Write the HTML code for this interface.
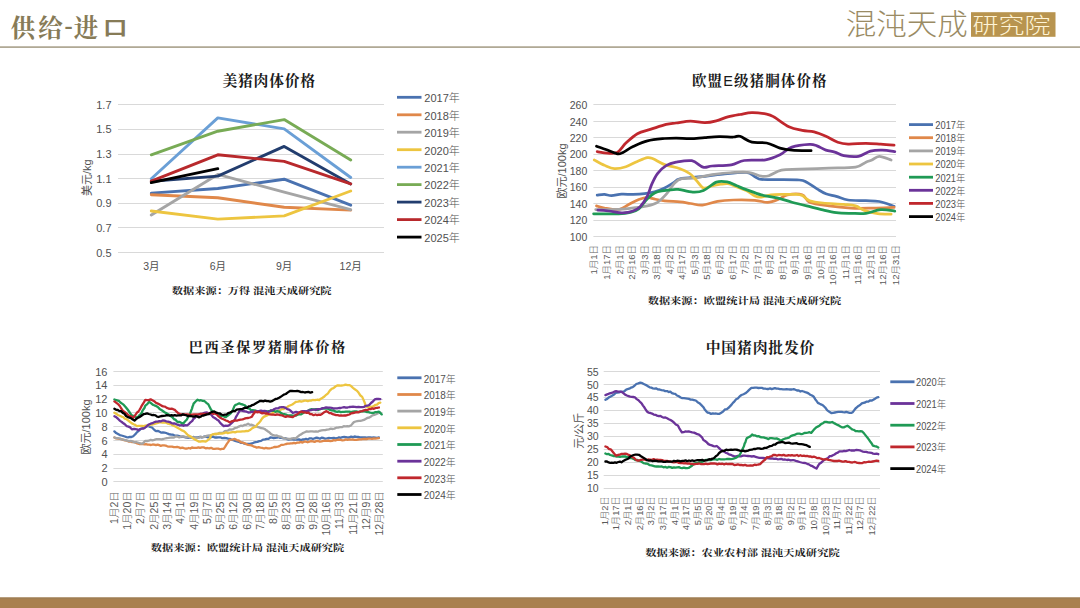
<!DOCTYPE html>
<html lang="zh-CN"><head><meta charset="utf-8"><title>供给-进口</title>
<style>html,body{margin:0;padding:0;background:#fff;}body{width:1080px;height:608px;overflow:hidden;}svg{display:block;}</style>
</head><body>
<svg width="1080" height="608" viewBox="0 0 1080 608">
<rect x="0" y="0" width="1080" height="608" fill="#fff"/>
<text y="28" font-size="24.5" fill="#877B57" font-family="'Liberation Serif','Noto Serif CJK SC',serif" font-weight="bold" dominant-baseline="central"><tspan x="10.8">供</tspan><tspan x="38.2">给</tspan><tspan x="64.6" y="25">-</tspan><tspan x="73.8" y="28">进</tspan></text>
<text x="103.2" y="28.0" font-size="18.8" fill="#877B57" font-weight="bold" font-family="'Liberation Sans','Noto Sans CJK SC',sans-serif" dominant-baseline="central" textLength="24" lengthAdjust="spacingAndGlyphs">口</text>
<rect x="0" y="46.3" width="1080" height="1.6" fill="#A8A08A"/>
<text x="845.8" y="25" font-size="29" fill="#9A8B64" text-anchor="start" font-family="'Liberation Sans','Noto Sans CJK SC',sans-serif" font-weight="300" dominant-baseline="central" textLength="122" lengthAdjust="spacingAndGlyphs">混沌天成</text>
<rect x="971" y="12.2" width="84.5" height="24.6" fill="#B8944F"/>
<text x="972.6" y="25.3" font-size="22" fill="#FFF4D6" text-anchor="start" font-family="'Liberation Sans','Noto Sans CJK SC',sans-serif" font-weight="300" dominant-baseline="central" textLength="77.8" lengthAdjust="spacingAndGlyphs">研究院</text>
<rect x="0" y="597.5" width="1080" height="11" fill="#A9804F"/>
<rect x="0" y="597.5" width="1080" height="1.2" fill="#9C7E56"/>
<text x="222.4" y="81.1" font-size="14.8" fill="#1a1a1a" font-family="'Liberation Serif','Noto Serif CJK SC',serif" font-weight="bold" dominant-baseline="central" textLength="92.7" lengthAdjust="spacing">美猪肉体价格</text>
<line x1="118" y1="252.5" x2="384" y2="252.5" stroke="#D9D9D9" stroke-width="1"/>
<text x="111.5" y="252.6" font-size="11" fill="#505050" text-anchor="end" font-family="'Liberation Sans','Noto Sans CJK SC',sans-serif" font-weight="normal" dominant-baseline="central">0.5</text>
<line x1="118" y1="227.5" x2="384" y2="227.5" stroke="#D9D9D9" stroke-width="1"/>
<text x="111.5" y="227.9" font-size="11" fill="#505050" text-anchor="end" font-family="'Liberation Sans','Noto Sans CJK SC',sans-serif" font-weight="normal" dominant-baseline="central">0.7</text>
<line x1="118" y1="203.5" x2="384" y2="203.5" stroke="#D9D9D9" stroke-width="1"/>
<text x="111.5" y="203.3" font-size="11" fill="#505050" text-anchor="end" font-family="'Liberation Sans','Noto Sans CJK SC',sans-serif" font-weight="normal" dominant-baseline="central">0.9</text>
<line x1="118" y1="178.5" x2="384" y2="178.5" stroke="#D9D9D9" stroke-width="1"/>
<text x="111.5" y="178.7" font-size="11" fill="#505050" text-anchor="end" font-family="'Liberation Sans','Noto Sans CJK SC',sans-serif" font-weight="normal" dominant-baseline="central">1.1</text>
<line x1="118" y1="154.5" x2="384" y2="154.5" stroke="#D9D9D9" stroke-width="1"/>
<text x="111.5" y="154.1" font-size="11" fill="#505050" text-anchor="end" font-family="'Liberation Sans','Noto Sans CJK SC',sans-serif" font-weight="normal" dominant-baseline="central">1.3</text>
<line x1="118" y1="129.5" x2="384" y2="129.5" stroke="#D9D9D9" stroke-width="1"/>
<text x="111.5" y="129.4" font-size="11" fill="#505050" text-anchor="end" font-family="'Liberation Sans','Noto Sans CJK SC',sans-serif" font-weight="normal" dominant-baseline="central">1.5</text>
<line x1="118" y1="104.5" x2="384" y2="104.5" stroke="#D9D9D9" stroke-width="1"/>
<text x="111.5" y="104.8" font-size="11" fill="#505050" text-anchor="end" font-family="'Liberation Sans','Noto Sans CJK SC',sans-serif" font-weight="normal" dominant-baseline="central">1.7</text>
<text x="151.3" y="266" font-size="10.5" fill="#505050" text-anchor="middle" font-family="'Liberation Sans','Noto Sans CJK SC',sans-serif" font-weight="normal" dominant-baseline="central">3月</text>
<text x="217.8" y="266" font-size="10.5" fill="#505050" text-anchor="middle" font-family="'Liberation Sans','Noto Sans CJK SC',sans-serif" font-weight="normal" dominant-baseline="central">6月</text>
<text x="284.2" y="266" font-size="10.5" fill="#505050" text-anchor="middle" font-family="'Liberation Sans','Noto Sans CJK SC',sans-serif" font-weight="normal" dominant-baseline="central">9月</text>
<text x="350.7" y="266" font-size="10.5" fill="#505050" text-anchor="middle" font-family="'Liberation Sans','Noto Sans CJK SC',sans-serif" font-weight="normal" dominant-baseline="central">12月</text>
<text transform="translate(87,177.7) rotate(-90)" font-size="11" fill="#505050" text-anchor="middle" font-family="'Liberation Sans','Noto Sans CJK SC',sans-serif" dominant-baseline="central">美元/kg</text>
<polyline points="151.3,193.1 217.8,188.5 284.2,179.2 350.7,205.2" fill="none" stroke="#4A72B0" stroke-width="2.9" stroke-linejoin="round" stroke-linecap="round"/>
<polyline points="151.3,194.8 217.8,197.8 284.2,207.3 350.7,210.1" fill="none" stroke="#E0884A" stroke-width="2.9" stroke-linejoin="round" stroke-linecap="round"/>
<polyline points="151.3,215.1 217.8,174.4 284.2,192.2 350.7,209.7" fill="none" stroke="#A5A5A5" stroke-width="2.9" stroke-linejoin="round" stroke-linecap="round"/>
<polyline points="151.3,211 217.8,219.1 284.2,215.9 350.7,191" fill="none" stroke="#EDC540" stroke-width="2.9" stroke-linejoin="round" stroke-linecap="round"/>
<polyline points="151.3,178.7 217.8,117.9 284.2,128.9 350.7,177.5" fill="none" stroke="#6A9FD6" stroke-width="2.9" stroke-linejoin="round" stroke-linecap="round"/>
<polyline points="151.3,154.8 217.8,131.2 284.2,119.6 350.7,160" fill="none" stroke="#78AB55" stroke-width="2.9" stroke-linejoin="round" stroke-linecap="round"/>
<polyline points="151.3,181.2 217.8,176.1 284.2,146.4 350.7,183.9" fill="none" stroke="#223D6E" stroke-width="2.9" stroke-linejoin="round" stroke-linecap="round"/>
<polyline points="151.3,181.2 217.8,154.8 284.2,161.4 350.7,183.9" fill="none" stroke="#B8292C" stroke-width="2.9" stroke-linejoin="round" stroke-linecap="round"/>
<polyline points="151.3,182.6 217.8,168.7" fill="none" stroke="#000000" stroke-width="2.9" stroke-linejoin="round" stroke-linecap="round"/>
<line x1="397" y1="97.3" x2="421.5" y2="97.3" stroke="#4A72B0" stroke-width="2.8"/>
<text x="424.3" y="98.1" font-size="11" fill="#505050" text-anchor="start" font-family="'Liberation Sans','Noto Sans CJK SC',sans-serif" font-weight="300" dominant-baseline="central">2017年</text>
<line x1="397" y1="114.8" x2="421.5" y2="114.8" stroke="#E0884A" stroke-width="2.8"/>
<text x="424.3" y="115.6" font-size="11" fill="#505050" text-anchor="start" font-family="'Liberation Sans','Noto Sans CJK SC',sans-serif" font-weight="300" dominant-baseline="central">2018年</text>
<line x1="397" y1="132.2" x2="421.5" y2="132.2" stroke="#A5A5A5" stroke-width="2.8"/>
<text x="424.3" y="133" font-size="11" fill="#505050" text-anchor="start" font-family="'Liberation Sans','Noto Sans CJK SC',sans-serif" font-weight="300" dominant-baseline="central">2019年</text>
<line x1="397" y1="149.7" x2="421.5" y2="149.7" stroke="#EDC540" stroke-width="2.8"/>
<text x="424.3" y="150.5" font-size="11" fill="#505050" text-anchor="start" font-family="'Liberation Sans','Noto Sans CJK SC',sans-serif" font-weight="300" dominant-baseline="central">2020年</text>
<line x1="397" y1="167.2" x2="421.5" y2="167.2" stroke="#6A9FD6" stroke-width="2.8"/>
<text x="424.3" y="168" font-size="11" fill="#505050" text-anchor="start" font-family="'Liberation Sans','Noto Sans CJK SC',sans-serif" font-weight="300" dominant-baseline="central">2021年</text>
<line x1="397" y1="184.6" x2="421.5" y2="184.6" stroke="#78AB55" stroke-width="2.8"/>
<text x="424.3" y="185.4" font-size="11" fill="#505050" text-anchor="start" font-family="'Liberation Sans','Noto Sans CJK SC',sans-serif" font-weight="300" dominant-baseline="central">2022年</text>
<line x1="397" y1="202.1" x2="421.5" y2="202.1" stroke="#223D6E" stroke-width="2.8"/>
<text x="424.3" y="202.9" font-size="11" fill="#505050" text-anchor="start" font-family="'Liberation Sans','Noto Sans CJK SC',sans-serif" font-weight="300" dominant-baseline="central">2023年</text>
<line x1="397" y1="219.6" x2="421.5" y2="219.6" stroke="#B8292C" stroke-width="2.8"/>
<text x="424.3" y="220.4" font-size="11" fill="#505050" text-anchor="start" font-family="'Liberation Sans','Noto Sans CJK SC',sans-serif" font-weight="300" dominant-baseline="central">2024年</text>
<line x1="397" y1="237.1" x2="421.5" y2="237.1" stroke="#000000" stroke-width="2.8"/>
<text x="424.3" y="237.9" font-size="11" fill="#505050" text-anchor="start" font-family="'Liberation Sans','Noto Sans CJK SC',sans-serif" font-weight="300" dominant-baseline="central">2025年</text>
<text x="171.8" y="290.2" font-size="9.6" fill="#1a1a1a" font-family="'Liberation Serif','Noto Serif CJK SC',serif" font-weight="bold" dominant-baseline="central" textLength="159.8" lengthAdjust="spacingAndGlyphs">数据来源：万得 混沌天成研究院</text>
<text x="691.9" y="81" font-size="14.5" fill="#1a1a1a" font-family="'Liberation Serif','Noto Serif CJK SC',serif" font-weight="bold" dominant-baseline="central" textLength="134.7" lengthAdjust="spacing">欧盟<tspan font-family="'Liberation Sans',sans-serif" font-weight="normal">E</tspan>级猪胴体价格</text>
<line x1="593.4" y1="104.5" x2="896" y2="104.5" stroke="#D9D9D9" stroke-width="1"/>
<text x="587.3" y="105" font-size="10.5" fill="#505050" text-anchor="end" font-family="'Liberation Sans','Noto Sans CJK SC',sans-serif" font-weight="normal" dominant-baseline="central">260</text>
<line x1="593.4" y1="121.5" x2="896" y2="121.5" stroke="#D9D9D9" stroke-width="1"/>
<text x="587.3" y="121.5" font-size="10.5" fill="#505050" text-anchor="end" font-family="'Liberation Sans','Noto Sans CJK SC',sans-serif" font-weight="normal" dominant-baseline="central">240</text>
<line x1="593.4" y1="137.5" x2="896" y2="137.5" stroke="#D9D9D9" stroke-width="1"/>
<text x="587.3" y="137.9" font-size="10.5" fill="#505050" text-anchor="end" font-family="'Liberation Sans','Noto Sans CJK SC',sans-serif" font-weight="normal" dominant-baseline="central">220</text>
<line x1="593.4" y1="154.5" x2="896" y2="154.5" stroke="#D9D9D9" stroke-width="1"/>
<text x="587.3" y="154.4" font-size="10.5" fill="#505050" text-anchor="end" font-family="'Liberation Sans','Noto Sans CJK SC',sans-serif" font-weight="normal" dominant-baseline="central">200</text>
<line x1="593.4" y1="170.5" x2="896" y2="170.5" stroke="#D9D9D9" stroke-width="1"/>
<text x="587.3" y="170.9" font-size="10.5" fill="#505050" text-anchor="end" font-family="'Liberation Sans','Noto Sans CJK SC',sans-serif" font-weight="normal" dominant-baseline="central">180</text>
<line x1="593.4" y1="187.5" x2="896" y2="187.5" stroke="#D9D9D9" stroke-width="1"/>
<text x="587.3" y="187.3" font-size="10.5" fill="#505050" text-anchor="end" font-family="'Liberation Sans','Noto Sans CJK SC',sans-serif" font-weight="normal" dominant-baseline="central">160</text>
<line x1="593.4" y1="203.5" x2="896" y2="203.5" stroke="#D9D9D9" stroke-width="1"/>
<text x="587.3" y="203.8" font-size="10.5" fill="#505050" text-anchor="end" font-family="'Liberation Sans','Noto Sans CJK SC',sans-serif" font-weight="normal" dominant-baseline="central">140</text>
<line x1="593.4" y1="220.5" x2="896" y2="220.5" stroke="#D9D9D9" stroke-width="1"/>
<text x="587.3" y="220.3" font-size="10.5" fill="#505050" text-anchor="end" font-family="'Liberation Sans','Noto Sans CJK SC',sans-serif" font-weight="normal" dominant-baseline="central">120</text>
<line x1="593.4" y1="236.5" x2="896" y2="236.5" stroke="#D9D9D9" stroke-width="1"/>
<text x="587.3" y="236.8" font-size="10.5" fill="#505050" text-anchor="end" font-family="'Liberation Sans','Noto Sans CJK SC',sans-serif" font-weight="normal" dominant-baseline="central">100</text>
<text transform="translate(593.9,245) rotate(-90)" font-size="9.5" fill="#5a5a5a" text-anchor="end" font-family="'Liberation Sans','Noto Sans CJK SC',sans-serif" font-weight="300" dominant-baseline="central">1月1日</text>
<text transform="translate(606.5,245) rotate(-90)" font-size="9.5" fill="#5a5a5a" text-anchor="end" font-family="'Liberation Sans','Noto Sans CJK SC',sans-serif" font-weight="300" dominant-baseline="central">1月17日</text>
<text transform="translate(619,245) rotate(-90)" font-size="9.5" fill="#5a5a5a" text-anchor="end" font-family="'Liberation Sans','Noto Sans CJK SC',sans-serif" font-weight="300" dominant-baseline="central">2月1日</text>
<text transform="translate(631.6,245) rotate(-90)" font-size="9.5" fill="#5a5a5a" text-anchor="end" font-family="'Liberation Sans','Noto Sans CJK SC',sans-serif" font-weight="300" dominant-baseline="central">2月16日</text>
<text transform="translate(644.1,245) rotate(-90)" font-size="9.5" fill="#5a5a5a" text-anchor="end" font-family="'Liberation Sans','Noto Sans CJK SC',sans-serif" font-weight="300" dominant-baseline="central">3月3日</text>
<text transform="translate(656.7,245) rotate(-90)" font-size="9.5" fill="#5a5a5a" text-anchor="end" font-family="'Liberation Sans','Noto Sans CJK SC',sans-serif" font-weight="300" dominant-baseline="central">3月18日</text>
<text transform="translate(669.3,245) rotate(-90)" font-size="9.5" fill="#5a5a5a" text-anchor="end" font-family="'Liberation Sans','Noto Sans CJK SC',sans-serif" font-weight="300" dominant-baseline="central">4月2日</text>
<text transform="translate(681.8,245) rotate(-90)" font-size="9.5" fill="#5a5a5a" text-anchor="end" font-family="'Liberation Sans','Noto Sans CJK SC',sans-serif" font-weight="300" dominant-baseline="central">4月17日</text>
<text transform="translate(694.4,245) rotate(-90)" font-size="9.5" fill="#5a5a5a" text-anchor="end" font-family="'Liberation Sans','Noto Sans CJK SC',sans-serif" font-weight="300" dominant-baseline="central">5月3日</text>
<text transform="translate(706.9,245) rotate(-90)" font-size="9.5" fill="#5a5a5a" text-anchor="end" font-family="'Liberation Sans','Noto Sans CJK SC',sans-serif" font-weight="300" dominant-baseline="central">5月18日</text>
<text transform="translate(719.5,245) rotate(-90)" font-size="9.5" fill="#5a5a5a" text-anchor="end" font-family="'Liberation Sans','Noto Sans CJK SC',sans-serif" font-weight="300" dominant-baseline="central">6月2日</text>
<text transform="translate(732.1,245) rotate(-90)" font-size="9.5" fill="#5a5a5a" text-anchor="end" font-family="'Liberation Sans','Noto Sans CJK SC',sans-serif" font-weight="300" dominant-baseline="central">6月17日</text>
<text transform="translate(744.6,245) rotate(-90)" font-size="9.5" fill="#5a5a5a" text-anchor="end" font-family="'Liberation Sans','Noto Sans CJK SC',sans-serif" font-weight="300" dominant-baseline="central">7月2日</text>
<text transform="translate(757.2,245) rotate(-90)" font-size="9.5" fill="#5a5a5a" text-anchor="end" font-family="'Liberation Sans','Noto Sans CJK SC',sans-serif" font-weight="300" dominant-baseline="central">7月17日</text>
<text transform="translate(769.7,245) rotate(-90)" font-size="9.5" fill="#5a5a5a" text-anchor="end" font-family="'Liberation Sans','Noto Sans CJK SC',sans-serif" font-weight="300" dominant-baseline="central">8月2日</text>
<text transform="translate(782.3,245) rotate(-90)" font-size="9.5" fill="#5a5a5a" text-anchor="end" font-family="'Liberation Sans','Noto Sans CJK SC',sans-serif" font-weight="300" dominant-baseline="central">8月17日</text>
<text transform="translate(794.9,245) rotate(-90)" font-size="9.5" fill="#5a5a5a" text-anchor="end" font-family="'Liberation Sans','Noto Sans CJK SC',sans-serif" font-weight="300" dominant-baseline="central">9月1日</text>
<text transform="translate(807.4,245) rotate(-90)" font-size="9.5" fill="#5a5a5a" text-anchor="end" font-family="'Liberation Sans','Noto Sans CJK SC',sans-serif" font-weight="300" dominant-baseline="central">9月16日</text>
<text transform="translate(820,245) rotate(-90)" font-size="9.5" fill="#5a5a5a" text-anchor="end" font-family="'Liberation Sans','Noto Sans CJK SC',sans-serif" font-weight="300" dominant-baseline="central">10月1日</text>
<text transform="translate(832.5,245) rotate(-90)" font-size="9.5" fill="#5a5a5a" text-anchor="end" font-family="'Liberation Sans','Noto Sans CJK SC',sans-serif" font-weight="300" dominant-baseline="central">10月16日</text>
<text transform="translate(845.1,245) rotate(-90)" font-size="9.5" fill="#5a5a5a" text-anchor="end" font-family="'Liberation Sans','Noto Sans CJK SC',sans-serif" font-weight="300" dominant-baseline="central">11月1日</text>
<text transform="translate(857.7,245) rotate(-90)" font-size="9.5" fill="#5a5a5a" text-anchor="end" font-family="'Liberation Sans','Noto Sans CJK SC',sans-serif" font-weight="300" dominant-baseline="central">11月16日</text>
<text transform="translate(870.2,245) rotate(-90)" font-size="9.5" fill="#5a5a5a" text-anchor="end" font-family="'Liberation Sans','Noto Sans CJK SC',sans-serif" font-weight="300" dominant-baseline="central">12月1日</text>
<text transform="translate(882.8,245) rotate(-90)" font-size="9.5" fill="#5a5a5a" text-anchor="end" font-family="'Liberation Sans','Noto Sans CJK SC',sans-serif" font-weight="300" dominant-baseline="central">12月16日</text>
<text transform="translate(895.3,245) rotate(-90)" font-size="9.5" fill="#5a5a5a" text-anchor="end" font-family="'Liberation Sans','Noto Sans CJK SC',sans-serif" font-weight="300" dominant-baseline="central">12月31日</text>
<text transform="translate(561.5,171) rotate(-90)" font-size="11" fill="#505050" text-anchor="middle" font-family="'Liberation Sans','Noto Sans CJK SC',sans-serif" dominant-baseline="central">欧元/100kg</text>
<path d="M597.2,195.2 C598.4,195.1 602,194.3 604.4,194.4 C606.8,194.5 608.6,195.6 611.5,195.6 C614.4,195.6 618,194.4 621.6,194.2 C625.2,194 629.3,194.5 633.1,194.4 C636.9,194.3 640.9,194.1 644.5,193.7 C648.1,193.3 651.2,192.8 654.6,191.9 C658,191 661.5,189.5 664.6,188 C667.7,186.5 670.6,184.5 673.2,183 C675.8,181.5 675.3,180 680,178.9 C684.7,177.8 694.3,177.5 701.4,176.7 C708.5,175.9 715.3,174.8 722.8,174.1 C730.3,173.4 740.9,172.1 746.3,172.5 C751.6,172.9 752.4,175.5 754.9,176.7 C757.4,177.8 757.6,178.9 761.3,179.4 C765,179.9 770.7,179.5 777,179.6 C783.3,179.7 794.3,179.6 799.3,180 C804.2,180.4 803.8,180.7 806.7,182.2 C809.7,183.7 813.8,187 817,188.9 C820.2,190.8 822.7,192.6 825.9,193.8 C829.1,195 832.6,195.3 836.3,196.3 C840,197.3 843.2,199.3 848.1,200 C853,200.7 860.7,200.4 865.9,200.7 C871.1,200.9 874.6,200.6 879.3,201.5 C884,202.4 891.6,205.4 894.1,206.2" fill="none" stroke="#4A72B0" stroke-width="2.75" stroke-linejoin="round" stroke-linecap="round"/>
<path d="M596.5,205.9 C597.8,206.3 600.7,207.5 604.4,208.1 C608.1,208.7 614.7,210.1 618.7,209.5 C622.8,208.9 625.4,206.2 628.7,204.5 C632.1,202.8 635.7,200.7 638.8,199.5 C641.9,198.3 645,197.4 647.4,197.3 C649.8,197.2 650.2,198.1 653.1,198.7 C656,199.3 660.1,200.4 664.6,200.9 C669.1,201.4 675.6,201.5 680,201.9 C684.4,202.3 687,203 690.7,203.5 C694.5,204 698,205.5 702.5,205.1 C707,204.7 712.2,202.2 717.4,201.3 C722.6,200.5 727.2,200.2 733.5,200 C739.8,199.8 749.2,199.9 754.9,200.3 C760.6,200.7 763.8,202.6 767.7,202.4 C771.6,202.2 775.2,200.6 778.5,199.3 C781.8,198 783.4,195.6 787.4,194.8 C791.4,194.1 798.5,193.6 802.2,194.8 C805.9,196 805.2,200.3 809.6,202.2 C814,204 822,204.9 828.9,205.9 C835.8,206.9 843.7,207.7 851.1,208.1 C858.5,208.5 866.1,208.2 873.3,208.1 C880.5,208 890.6,207.5 894.1,207.4" fill="none" stroke="#E0884A" stroke-width="2.75" stroke-linejoin="round" stroke-linecap="round"/>
<path d="M595.7,209.5 C598.3,209.5 606.5,209.6 611.5,209.5 C616.5,209.4 621.6,209.2 625.9,208.8 C630.2,208.5 633.8,207.9 637.4,207.4 C641,206.9 644,206.8 647.4,205.9 C650.8,205.1 654.4,204.2 657.5,202.3 C660.6,200.4 663.2,197.6 666.1,194.4 C669,191.2 672.1,185.6 674.7,183 C677.3,180.4 678.2,179.5 681.8,178.7 C685.3,177.9 691,178.7 696,178 C701,177.3 705.9,175.5 712.1,174.6 C718.4,173.7 727.3,172.8 733.5,172.5 C739.7,172.2 744.9,171.9 749.5,172.5 C754.1,173.1 758.1,175.7 761.3,176.2 C764.5,176.7 765.4,176.7 768.8,175.7 C772.2,174.7 776.4,171.2 781.5,170.1 C786.6,169 791.4,169.5 799.3,169.2 C807.2,168.9 819.5,168.4 828.9,168.1 C838.3,167.8 849.4,168.1 855.6,167.1 C861.8,166.1 863.2,163.4 865.9,162.2 C868.6,161 869.7,161 871.9,160 C874.1,159 876.1,156.3 879.3,156.3 C882.5,156.3 889.1,159.4 891.1,160" fill="none" stroke="#A5A5A5" stroke-width="2.75" stroke-linejoin="round" stroke-linecap="round"/>
<path d="M594.3,160 C596,160.9 601,163.9 604.4,165.3 C607.8,166.7 610.8,168.4 614.4,168.6 C618,168.8 622.1,167.9 625.9,166.7 C629.7,165.5 633.8,162.9 637.4,161.4 C641,159.9 644.8,158.1 647.4,157.7 C650,157.3 650.2,157.7 653.1,158.8 C656,160 660.1,162.9 664.6,164.6 C669.1,166.2 675.8,167.2 680,168.7 C684.2,170.2 686.9,171.6 689.6,173.5 C692.3,175.4 693.7,177.6 696,180 C698.3,182.4 700.8,187 703.5,188 C706.2,189 709.2,186.4 712.1,185.8 C715,185.2 717.9,184.5 720.6,184.2 C723.3,183.8 725.6,183.3 728.1,183.7 C730.6,184.1 732.6,185.2 735.6,186.4 C738.6,187.6 743.1,189 746.3,190.6 C749.5,192.2 752.4,194.9 754.9,196 C757.4,197.1 758.6,197.3 761.3,197.1 C764,196.9 767,195.3 770.9,194.9 C774.8,194.5 780.2,194.5 784.4,194.4 C788.6,194.3 793.3,194.2 796.3,194.4 C799.3,194.6 800,194.6 802.2,195.6 C804.4,196.6 806.1,199.5 809.6,200.7 C813.1,201.9 817.3,202.4 823,203 C828.7,203.6 838.3,203.9 843.7,204.4 C849.1,204.9 852.2,204.9 855.6,205.9 C859,206.9 860.7,209.1 864.4,210.4 C868.1,211.7 873.3,213 877.8,213.6 C882.2,214.2 888.9,214 891.1,214.1" fill="none" stroke="#EDC540" stroke-width="2.75" stroke-linejoin="round" stroke-linecap="round"/>
<path d="M593.6,213.8 C595.4,213.8 600.2,213.8 604.4,213.8 C608.6,213.8 614.4,214 618.7,213.8 C623,213.6 626.9,213.2 630.2,212.4 C633.6,211.6 635.9,211.1 638.8,208.8 C641.7,206.5 644.8,201.3 647.4,198.7 C650,196.1 652.2,194.3 654.6,193 C657,191.7 658.2,191.5 661.8,190.9 C665.4,190.3 673.1,189.6 676.1,189.4 C679.1,189.2 677.2,189.1 680,189.6 C682.8,190.1 688.9,192 692.8,192.2 C696.7,192.4 699.6,192.3 703.5,190.6 C707.4,188.9 712.5,183.5 716.4,182.1 C720.3,180.7 723.7,181.3 727.1,181.9 C730.5,182.5 733.5,184.5 736.7,185.8 C739.9,187.1 742.2,188.1 746.3,189.6 C750.4,191.1 756.2,193.5 761.3,194.9 C766.4,196.3 771.9,196.6 777,197.8 C782.1,199 786.9,200.8 791.9,202.2 C796.9,203.5 801.8,204.7 806.7,205.9 C811.6,207.1 816.6,208.5 821.5,209.6 C826.4,210.7 831.4,212 836.3,212.6 C841.2,213.2 846.2,213.2 851.1,213.3 C856,213.4 861,213.9 865.9,213.3 C870.8,212.7 875.9,210 880.7,209.6 C885.5,209.2 892.4,210.8 894.8,211.1" fill="none" stroke="#1F9A55" stroke-width="2.75" stroke-linejoin="round" stroke-linecap="round"/>
<path d="M597.9,210.2 C599.7,210.3 604.5,210.6 608.7,211 C612.9,211.4 618.9,212.8 623,212.8 C627.1,212.8 630.2,212 633.1,211 C636,210 637.8,209.1 640.2,206.6 C642.6,204.1 645.5,199.6 647.4,195.9 C649.3,192.2 650,188.1 651.7,184.4 C653.4,180.7 655.1,176.7 657.5,173.6 C659.9,170.5 663,167.6 666.1,165.7 C669.2,163.8 671.8,163 676.1,162.2 C680.4,161.4 687.3,159.9 691.8,160.7 C696.3,161.5 699.6,166.2 703,167.1 C706.4,168 707.4,166.4 712.1,166 C716.8,165.6 725.9,165.7 731.3,164.8 C736.6,163.9 738.5,161.3 744.2,160.5 C749.9,159.7 759.6,160.8 765.6,159.8 C771.6,158.9 775.6,156.9 780,154.8 C784.4,152.7 787,148.8 791.9,147.1 C796.8,145.4 805.4,144.6 809.6,144.4 C813.8,144.2 814.3,145 817,145.9 C819.7,146.8 822.9,149.1 825.9,150.1 C828.9,151.1 831.8,151.2 834.8,152.1 C837.8,153 839.8,154.9 843.7,155.6 C847.7,156.3 854,157.1 858.5,156.3 C863,155.6 866.4,152.1 870.4,151.1 C874.4,150.1 878.1,150 882.2,150.1 C886.3,150.2 892.7,151.3 894.8,151.6" fill="none" stroke="#6B3399" stroke-width="2.75" stroke-linejoin="round" stroke-linecap="round"/>
<path d="M597.2,151.7 C598.9,151.9 603.9,153 607.2,153.1 C610.6,153.2 614.2,154.1 617.3,152.4 C620.4,150.7 622.5,146.2 625.9,143.1 C629.2,140 633.3,136 637.4,133.7 C641.5,131.4 645.5,130.9 650.3,129.4 C655.1,127.9 661.8,125.5 666.1,124.4 C670.4,123.3 672,123.5 676.1,123 C680.2,122.5 685.7,121.2 690.5,121.2 C695.3,121.2 700.5,122.8 704.8,122.7 C709.1,122.6 712.5,121.8 716.3,120.8 C720.1,119.8 723.8,118 727.8,116.9 C731.8,115.9 736,115.2 740,114.5 C744,113.8 747.4,112.7 751.9,112.6 C756.4,112.5 763,113.4 766.7,114.1 C770.4,114.8 770.4,114.9 774.1,117 C777.8,119.1 784.2,124.5 788.9,126.7 C793.6,128.9 798,129.5 802.2,130.4 C806.4,131.3 810.2,130.9 814.1,131.9 C818,132.9 822,134.6 825.9,136.3 C829.8,138 834.1,140.9 837.8,142.2 C841.5,143.5 843.4,143.9 848.1,144.1 C852.8,144.3 860.5,143.3 865.9,143.3 C871.3,143.3 876,143.8 880.7,144.1 C885.4,144.4 891.9,145 894.1,145.2" fill="none" stroke="#C0272D" stroke-width="2.75" stroke-linejoin="round" stroke-linecap="round"/>
<path d="M596.5,146.2 C598,146.8 602.3,148.2 605.8,149.5 C609.3,150.8 614.4,153.3 617.3,153.8 C620.2,154.3 620.4,153.6 623,152.4 C625.6,151.2 629,148.5 633.1,146.6 C637.2,144.7 642.1,142.2 647.4,140.9 C652.6,139.6 659.8,139 664.6,138.5 C669.4,138 671.8,138 676.1,138 C680.4,138 685.7,138.8 690.5,138.7 C695.3,138.6 700,137.9 704.8,137.6 C709.6,137.2 714.4,136.7 719.2,136.6 C724,136.5 730,137.1 733.5,137 C737,136.9 736.9,135.4 740,136.3 C743.1,137.2 747.4,141.1 751.9,142.2 C756.4,143.3 762,142 766.7,143 C771.4,144 775.8,146.9 780,148.1 C784.2,149.3 786.7,149.7 791.9,150.1 C797.1,150.5 807.9,150.6 811.1,150.7" fill="none" stroke="#000000" stroke-width="2.75" stroke-linejoin="round" stroke-linecap="round"/>
<line x1="909" y1="124.6" x2="933" y2="124.6" stroke="#4A72B0" stroke-width="2.8"/>
<text x="935.3" y="125.4" font-size="10" fill="#505050" text-anchor="start" font-family="'Liberation Sans','Noto Sans CJK SC',sans-serif" font-weight="300" dominant-baseline="central" textLength="30" lengthAdjust="spacingAndGlyphs">2017年</text>
<line x1="909" y1="137.7" x2="933" y2="137.7" stroke="#E0884A" stroke-width="2.8"/>
<text x="935.3" y="138.5" font-size="10" fill="#505050" text-anchor="start" font-family="'Liberation Sans','Noto Sans CJK SC',sans-serif" font-weight="300" dominant-baseline="central" textLength="30" lengthAdjust="spacingAndGlyphs">2018年</text>
<line x1="909" y1="150.9" x2="933" y2="150.9" stroke="#A5A5A5" stroke-width="2.8"/>
<text x="935.3" y="151.7" font-size="10" fill="#505050" text-anchor="start" font-family="'Liberation Sans','Noto Sans CJK SC',sans-serif" font-weight="300" dominant-baseline="central" textLength="30" lengthAdjust="spacingAndGlyphs">2019年</text>
<line x1="909" y1="164" x2="933" y2="164" stroke="#EDC540" stroke-width="2.8"/>
<text x="935.3" y="164.8" font-size="10" fill="#505050" text-anchor="start" font-family="'Liberation Sans','Noto Sans CJK SC',sans-serif" font-weight="300" dominant-baseline="central" textLength="30" lengthAdjust="spacingAndGlyphs">2020年</text>
<line x1="909" y1="177.2" x2="933" y2="177.2" stroke="#1F9A55" stroke-width="2.8"/>
<text x="935.3" y="178" font-size="10" fill="#505050" text-anchor="start" font-family="'Liberation Sans','Noto Sans CJK SC',sans-serif" font-weight="300" dominant-baseline="central" textLength="30" lengthAdjust="spacingAndGlyphs">2021年</text>
<line x1="909" y1="190.3" x2="933" y2="190.3" stroke="#6B3399" stroke-width="2.8"/>
<text x="935.3" y="191.1" font-size="10" fill="#505050" text-anchor="start" font-family="'Liberation Sans','Noto Sans CJK SC',sans-serif" font-weight="300" dominant-baseline="central" textLength="30" lengthAdjust="spacingAndGlyphs">2022年</text>
<line x1="909" y1="203.4" x2="933" y2="203.4" stroke="#C0272D" stroke-width="2.8"/>
<text x="935.3" y="204.2" font-size="10" fill="#505050" text-anchor="start" font-family="'Liberation Sans','Noto Sans CJK SC',sans-serif" font-weight="300" dominant-baseline="central" textLength="30" lengthAdjust="spacingAndGlyphs">2023年</text>
<line x1="909" y1="216.6" x2="933" y2="216.6" stroke="#000000" stroke-width="2.8"/>
<text x="935.3" y="217.4" font-size="10" fill="#505050" text-anchor="start" font-family="'Liberation Sans','Noto Sans CJK SC',sans-serif" font-weight="300" dominant-baseline="central" textLength="30" lengthAdjust="spacingAndGlyphs">2024年</text>
<text x="647.7" y="300.8" font-size="9.6" fill="#1a1a1a" font-family="'Liberation Serif','Noto Serif CJK SC',serif" font-weight="bold" dominant-baseline="central" textLength="193.5" lengthAdjust="spacingAndGlyphs">数据来源：欧盟统计局 混沌天成研究院</text>
<text x="188.7" y="347.1" font-size="14.2" fill="#1a1a1a" font-family="'Liberation Serif','Noto Serif CJK SC',serif" font-weight="bold" dominant-baseline="central" textLength="156.5" lengthAdjust="spacing">巴西圣保罗猪胴体价格</text>
<line x1="113.4" y1="371.5" x2="382.8" y2="371.5" stroke="#D9D9D9" stroke-width="1"/>
<text x="107.5" y="371.5" font-size="11" fill="#505050" text-anchor="end" font-family="'Liberation Sans','Noto Sans CJK SC',sans-serif" font-weight="normal" dominant-baseline="central">16</text>
<line x1="113.4" y1="385.5" x2="382.8" y2="385.5" stroke="#D9D9D9" stroke-width="1"/>
<text x="107.5" y="385.3" font-size="11" fill="#505050" text-anchor="end" font-family="'Liberation Sans','Noto Sans CJK SC',sans-serif" font-weight="normal" dominant-baseline="central">14</text>
<line x1="113.4" y1="399.5" x2="382.8" y2="399.5" stroke="#D9D9D9" stroke-width="1"/>
<text x="107.5" y="399.1" font-size="11" fill="#505050" text-anchor="end" font-family="'Liberation Sans','Noto Sans CJK SC',sans-serif" font-weight="normal" dominant-baseline="central">12</text>
<line x1="113.4" y1="412.5" x2="382.8" y2="412.5" stroke="#D9D9D9" stroke-width="1"/>
<text x="107.5" y="412.9" font-size="11" fill="#505050" text-anchor="end" font-family="'Liberation Sans','Noto Sans CJK SC',sans-serif" font-weight="normal" dominant-baseline="central">10</text>
<line x1="113.4" y1="426.5" x2="382.8" y2="426.5" stroke="#D9D9D9" stroke-width="1"/>
<text x="107.5" y="426.7" font-size="11" fill="#505050" text-anchor="end" font-family="'Liberation Sans','Noto Sans CJK SC',sans-serif" font-weight="normal" dominant-baseline="central">8</text>
<line x1="113.4" y1="440.5" x2="382.8" y2="440.5" stroke="#D9D9D9" stroke-width="1"/>
<text x="107.5" y="440.6" font-size="11" fill="#505050" text-anchor="end" font-family="'Liberation Sans','Noto Sans CJK SC',sans-serif" font-weight="normal" dominant-baseline="central">6</text>
<line x1="113.4" y1="454.5" x2="382.8" y2="454.5" stroke="#D9D9D9" stroke-width="1"/>
<text x="107.5" y="454.4" font-size="11" fill="#505050" text-anchor="end" font-family="'Liberation Sans','Noto Sans CJK SC',sans-serif" font-weight="normal" dominant-baseline="central">4</text>
<line x1="113.4" y1="468.5" x2="382.8" y2="468.5" stroke="#D9D9D9" stroke-width="1"/>
<text x="107.5" y="468.2" font-size="11" fill="#505050" text-anchor="end" font-family="'Liberation Sans','Noto Sans CJK SC',sans-serif" font-weight="normal" dominant-baseline="central">2</text>
<line x1="113.4" y1="481.5" x2="382.8" y2="481.5" stroke="#D9D9D9" stroke-width="1"/>
<text x="107.5" y="482" font-size="11" fill="#505050" text-anchor="end" font-family="'Liberation Sans','Noto Sans CJK SC',sans-serif" font-weight="normal" dominant-baseline="central">0</text>
<text transform="translate(113.9,491.2) rotate(-90)" font-size="10.5" fill="#5a5a5a" text-anchor="end" font-family="'Liberation Sans','Noto Sans CJK SC',sans-serif" font-weight="300" dominant-baseline="central">1月2日</text>
<text transform="translate(127.2,491.2) rotate(-90)" font-size="10.5" fill="#5a5a5a" text-anchor="end" font-family="'Liberation Sans','Noto Sans CJK SC',sans-serif" font-weight="300" dominant-baseline="central">1月20日</text>
<text transform="translate(140.4,491.2) rotate(-90)" font-size="10.5" fill="#5a5a5a" text-anchor="end" font-family="'Liberation Sans','Noto Sans CJK SC',sans-serif" font-weight="300" dominant-baseline="central">2月7日</text>
<text transform="translate(153.7,491.2) rotate(-90)" font-size="10.5" fill="#5a5a5a" text-anchor="end" font-family="'Liberation Sans','Noto Sans CJK SC',sans-serif" font-weight="300" dominant-baseline="central">2月25日</text>
<text transform="translate(166.9,491.2) rotate(-90)" font-size="10.5" fill="#5a5a5a" text-anchor="end" font-family="'Liberation Sans','Noto Sans CJK SC',sans-serif" font-weight="300" dominant-baseline="central">3月14日</text>
<text transform="translate(180.2,491.2) rotate(-90)" font-size="10.5" fill="#5a5a5a" text-anchor="end" font-family="'Liberation Sans','Noto Sans CJK SC',sans-serif" font-weight="300" dominant-baseline="central">4月1日</text>
<text transform="translate(193.5,491.2) rotate(-90)" font-size="10.5" fill="#5a5a5a" text-anchor="end" font-family="'Liberation Sans','Noto Sans CJK SC',sans-serif" font-weight="300" dominant-baseline="central">4月19日</text>
<text transform="translate(206.7,491.2) rotate(-90)" font-size="10.5" fill="#5a5a5a" text-anchor="end" font-family="'Liberation Sans','Noto Sans CJK SC',sans-serif" font-weight="300" dominant-baseline="central">5月7日</text>
<text transform="translate(220,491.2) rotate(-90)" font-size="10.5" fill="#5a5a5a" text-anchor="end" font-family="'Liberation Sans','Noto Sans CJK SC',sans-serif" font-weight="300" dominant-baseline="central">5月25日</text>
<text transform="translate(233.2,491.2) rotate(-90)" font-size="10.5" fill="#5a5a5a" text-anchor="end" font-family="'Liberation Sans','Noto Sans CJK SC',sans-serif" font-weight="300" dominant-baseline="central">6月12日</text>
<text transform="translate(246.5,491.2) rotate(-90)" font-size="10.5" fill="#5a5a5a" text-anchor="end" font-family="'Liberation Sans','Noto Sans CJK SC',sans-serif" font-weight="300" dominant-baseline="central">6月30日</text>
<text transform="translate(259.8,491.2) rotate(-90)" font-size="10.5" fill="#5a5a5a" text-anchor="end" font-family="'Liberation Sans','Noto Sans CJK SC',sans-serif" font-weight="300" dominant-baseline="central">7月18日</text>
<text transform="translate(273,491.2) rotate(-90)" font-size="10.5" fill="#5a5a5a" text-anchor="end" font-family="'Liberation Sans','Noto Sans CJK SC',sans-serif" font-weight="300" dominant-baseline="central">8月5日</text>
<text transform="translate(286.3,491.2) rotate(-90)" font-size="10.5" fill="#5a5a5a" text-anchor="end" font-family="'Liberation Sans','Noto Sans CJK SC',sans-serif" font-weight="300" dominant-baseline="central">8月23日</text>
<text transform="translate(299.5,491.2) rotate(-90)" font-size="10.5" fill="#5a5a5a" text-anchor="end" font-family="'Liberation Sans','Noto Sans CJK SC',sans-serif" font-weight="300" dominant-baseline="central">9月10日</text>
<text transform="translate(312.8,491.2) rotate(-90)" font-size="10.5" fill="#5a5a5a" text-anchor="end" font-family="'Liberation Sans','Noto Sans CJK SC',sans-serif" font-weight="300" dominant-baseline="central">9月28日</text>
<text transform="translate(326.1,491.2) rotate(-90)" font-size="10.5" fill="#5a5a5a" text-anchor="end" font-family="'Liberation Sans','Noto Sans CJK SC',sans-serif" font-weight="300" dominant-baseline="central">10月16日</text>
<text transform="translate(339.3,491.2) rotate(-90)" font-size="10.5" fill="#5a5a5a" text-anchor="end" font-family="'Liberation Sans','Noto Sans CJK SC',sans-serif" font-weight="300" dominant-baseline="central">11月3日</text>
<text transform="translate(352.6,491.2) rotate(-90)" font-size="10.5" fill="#5a5a5a" text-anchor="end" font-family="'Liberation Sans','Noto Sans CJK SC',sans-serif" font-weight="300" dominant-baseline="central">11月21日</text>
<text transform="translate(365.8,491.2) rotate(-90)" font-size="10.5" fill="#5a5a5a" text-anchor="end" font-family="'Liberation Sans','Noto Sans CJK SC',sans-serif" font-weight="300" dominant-baseline="central">12月9日</text>
<text transform="translate(379.1,491.2) rotate(-90)" font-size="10.5" fill="#5a5a5a" text-anchor="end" font-family="'Liberation Sans','Noto Sans CJK SC',sans-serif" font-weight="300" dominant-baseline="central">12月28日</text>
<text transform="translate(86,427) rotate(-90)" font-size="11" fill="#505050" text-anchor="middle" font-family="'Liberation Sans','Noto Sans CJK SC',sans-serif" dominant-baseline="central">欧元/100kg</text>
<polyline points="114.4,431.4 116.2,433.1 118,434.1 119.8,435.1 121.5,435.5 123.2,436 124.8,436.5 126.5,437.1 128.2,437.4 129.8,436.9 131.5,437 133.2,436.3 134.5,435 135.9,433.6 137.2,432.1 139,430.7 140.8,429 142.6,428.3 144.4,427.2 146.2,426.7 148,425.8 150,427 152,427.5 154.7,430.2 156.4,431.2 158.1,430.9 159.7,431.8 161.4,432.7 163,432.4 164.6,432.6 166.2,433 167.8,433.7 169.4,434.3 171,434.5 172.6,434.6 174.3,435.3 175.9,435.6 177.5,435.7 179.3,436.1 181.1,437 182.8,436.6 184.6,437.2 186.4,437.7 188.2,437.8 189.9,437.4 191.6,437.9 193.3,436.9 194.9,437.3 196.6,437.3 198.3,437.3 200,436.8 201.8,437.5 203.7,436.7 205.6,436.5 207.4,437.3 209.2,436.9 211.1,437.2 212.9,436.6 214.8,437.5 216.7,437.5 218.5,437.3 220.4,437.3 222.3,438.2 224.3,437.9 226.2,438.1 228.1,438.6 229.8,438.9 231.6,439.7 233.3,440.2 235.2,440.8 237,441.3 238.8,441.8 240.7,442.8 242.5,442.6 244.4,443.7 246.2,443.8 248.1,443.9 250,443.8 251.8,443.5 253.7,442.7 255.6,442.1 257.4,441.9 259.3,441.2 261.1,440.9 263,439.6 264.9,439.4 266.7,438.9 268.5,438.9 270.4,437.5 272,437.7 273.6,438 275.2,437.8 276.9,437.7 278.5,437.2 280.1,437.8 281.7,437.8 283.4,438.3 285.1,438.1 286.9,439.1 288.6,439.7 290.3,439.4 292.1,439.4 293.8,439.5 295.6,439.4 297.3,439.7 299,439.4 300.8,440.1 302.5,439.5 304.2,439.5 306,438.8 307.7,439.5 309.4,438.4 311.2,438.3 312.9,439 314.7,438.3 316.4,437.7 318.1,438 319.9,438.7 321.6,437.7 323.4,438 325.1,438.6 326.8,438.4 328.6,438 330.3,438.2 332,438.1 333.8,437.8 335.5,438.4 337.2,438.2 339,437.4 340.7,437.8 342.5,437.1 344.2,437 345.9,437.1 347.7,437.5 349.4,437.3 351.1,436.7 352.9,437.1 354.6,436.5 356.4,436.8 358.1,436.8 359.8,437.3 361.6,437.4 363.3,437.3 365,437.3 366.7,437.6 368.4,437.3 370.2,437.5 371.9,437.7 373.6,437.5 375.4,437.6 377.1,437.8 378.9,437.5" fill="none" stroke="#4A72B0" stroke-width="2.3" stroke-linejoin="round" stroke-linecap="round"/>
<polyline points="114.4,437.5 116.2,438.4 118,438.6 119.8,438.8 121.5,439.2 123.3,439.8 125.1,440.4 126.8,440.7 128.6,441.5 130.3,441.5 132.1,442.1 133.8,442 135.6,442.7 137.3,443.5 139.1,444 140.8,444 142.6,443.8 144.3,444.3 145.9,444.1 147.6,444.6 149.3,444.7 151,445 152.7,444.5 154.3,444.6 156,445.2 157.6,444.6 159.2,445.2 160.8,445.8 162.4,445.4 164.1,445.4 165.7,445.6 167.3,446.3 168.9,446.7 170.5,446.7 172.1,446.6 173.8,447.1 175.5,447.1 177.2,446.9 178.8,447.3 180.5,448.1 182.2,447.6 183.9,448.2 185.6,448.6 187.2,448.5 188.8,448 190.4,448.5 192,447.5 193.6,447.8 195.2,447.8 196.8,447.8 198.4,447.3 200,447.9 201.8,447.4 203.7,447.4 205.6,448.3 207.4,448 209.2,448.4 211.1,447.8 212.9,448.8 214.7,448.9 216.5,448.7 218.3,448.6 220.1,449.3 221.9,448.8 223.7,448.8 225.2,446.7 226.7,444.2 228.1,442.2 229.6,439.8 231.3,439.6 233.1,439.3 234.8,438.9 236.8,440.1 238.7,440.5 240.7,442.1 242.5,442.6 244.4,443.1 246.2,444.2 248.1,444.9 249.8,445.1 251.5,445.4 253.3,446.3 255,446.8 256.7,447.6 258.6,447.2 260.4,447.7 262.2,447.9 264.1,448.5 265.9,447.9 267.8,448.3 269.5,448.4 271.2,448 273,447.5 274.7,446.8 276.3,447 277.9,446.6 279.5,446.1 281.2,444.9 282.8,444.9 284.4,444.5 286,444 287.6,443.7 289.2,443.6 290.8,443.3 292.4,443.4 294,442.8 295.6,443.3 297.3,442.6 299.1,442.6 300.8,441.9 302.5,442.6 304.2,441.7 305.9,441.6 307.7,442.3 309.4,441.6 311.1,441.2 312.9,441.3 314.6,441.9 316.4,440.9 318.1,441 319.8,441.6 321.6,441.3 323.3,440.8 325,440.9 326.8,440.8 328.5,440.5 330.2,441.1 332,440.9 333.7,440.1 335.5,440.5 337.2,439.8 338.9,439.7 340.7,439.8 342.4,440.3 344.1,440.1 345.9,439.4 347.6,439.9 349.4,439.3 351.1,439.6 352.8,439.5 354.6,439.8 356.3,439.8 358.1,439.5 359.8,439.3 361.5,439.4 363.3,438.9 365,439 366.7,439 368.5,438.7 370.2,438.7 371.9,438.8 373.7,438.5 375.4,438.7 377.2,438.4 378.9,438.2" fill="none" stroke="#E0884A" stroke-width="2.3" stroke-linejoin="round" stroke-linecap="round"/>
<polyline points="114.4,437.5 116.2,438.1 118,438.1 119.8,438.5 121.5,439.4 123.3,439.7 125.1,440.1 127,440.5 128.9,441.1 130.7,441 132.6,441.4 134.5,442.4 136.1,442 137.7,442.5 139.4,443 141,443.6 142.6,443.6 145.3,440.8 147.1,441 148.9,440.7 150.7,439.8 152.4,440.4 154.2,439.9 156,439.2 157.8,439.1 159.6,439.2 161.4,439.3 163.2,439 165,438.5 166.8,438.1 168.6,437.9 170.4,437.6 172.2,437.4 173.9,437.6 175.7,436.5 177.5,436.7 179.3,437.4 181.1,436.5 182.8,436.5 184.6,436.7 186.4,437.3 188.2,436.8 190,437.1 191.8,437.3 193.6,437.4 195.4,437.3 197.2,437.9 199,437.8 200.7,436.7 202.3,437.3 204,437 205.7,436.3 207.4,435.6 209.1,435.5 210.7,435.1 212.4,434.8 214.2,434.1 216,434 217.8,433.9 219.6,432.8 221.4,432.9 223.2,432.6 224.8,431.2 226.4,431 228,430.5 229.6,429.3 231.4,429.6 233.3,429 235.1,427.9 237,427.6 238.8,426.6 240.7,425.7 242.5,426 244.4,424.9 246.2,424.8 248.1,423.7 250,424.9 251.8,424.7 253.7,425.6 255.6,426.4 257.4,426.8 259.3,427.4 261.1,428.2 263,428.4 264.7,429 266.4,430.3 268.1,431.5 269.6,432.5 271.1,434.1 273.1,435.2 275,435.7 276.9,435.5 278.9,436.5 280.6,436.6 282.2,437.5 283.9,438.2 285.5,438.5 287.2,438.6 288.9,438.8 290.6,438.9 292.2,438.3 293.9,438.1 295.6,438.6 297.4,436.9 299.3,435.3 301.1,434.4 303,433 304.8,432.2 306.7,431.4 308.6,431.6 310.4,431.4 312.2,431.4 314.1,431.7 315.9,431.5 317.8,431.7 319.6,430.8 321.5,430.3 323.4,430.1 325.2,430.2 327,429.7 328.9,429.3 330.8,428.7 332.6,429 334.4,428.6 336.3,427.7 338.1,427.6 340,427.2 341.9,427.2 343.7,426.2 345.6,426.3 347.4,426.2 349.2,426.3 351.1,425.4 352.5,423.6 353.9,422.1 355.6,421.5 357.2,421.1 358.9,420.8 360.5,420.8 362.2,420.4 363.9,419.9 365.6,418.9 367.2,418 368.9,417.7 370.6,416.7 372.4,415.4 374.3,414.9 376.1,414.2 378.2,413.3 380.3,412.5" fill="none" stroke="#A5A5A5" stroke-width="2.3" stroke-linejoin="round" stroke-linecap="round"/>
<polyline points="114.4,412.8 116.2,413.8 118,415 119.8,415.7 121.5,416.6 123.2,417 124.8,418.7 126.5,419.2 128.3,420.5 130.1,422 131.9,423.4 133.6,424.2 135.2,424.9 136.9,426.1 138.6,425.9 140.3,425.8 141.9,425.8 143.6,426.1 145.3,425.7 147,425.5 148.7,425.3 150.3,424.6 152,424.5 153.7,424.2 155.3,423.7 157,423.2 158.7,422.6 160.5,422.2 162.3,422.7 164.1,422.5 165.9,422.6 167.6,423.6 169.4,424 171.2,424.2 173,425.5 174.8,426.3 176.6,427.2 178.4,428.3 180.2,429.3 182,430.4 183.8,431.1 185.6,432.7 187.4,434.6 189.1,435.9 190.9,436.6 192.5,438 194.1,438.9 195.8,439.9 197.4,440.8 199,441.6 200.7,441.6 202.3,441.2 204,441.4 205.7,441.6 207.7,440.2 209.7,438.7 210.4,437.3 211.1,435 212.9,434.4 214.8,433.9 216.7,434 218.5,433.4 220.3,433.7 222.2,433.5 224.1,433.2 225.9,432.3 227.8,433.1 229.6,432.7 231.4,432.3 233.3,431.9 235.1,432.4 237,431.6 238.8,431.6 240.7,431.7 242.5,431.3 244.4,431.3 246.2,431 248.1,431.1 250,430.1 251.8,428.5 253.7,427.4 255.6,426.9 257.3,424.4 259,422.9 260.7,420.7 262.2,418.4 263.7,416.9 265.3,416.1 267,415.4 268.6,414.4 270.3,414.1 271.9,413.6 273.6,412.4 275.3,411.6 276.9,411.4 278.6,411.3 280.3,410 282,409.1 283.6,409.2 285.3,407.7 286.9,407.3 288.6,406 290.5,405.2 292.3,404.5 294.2,403.1 296,401.8 297.9,401.7 299.7,401.1 301.3,401.6 302.9,401.2 304.5,400.6 306.2,400.6 307.8,401.2 309.4,400.7 311,400.6 312.7,400 314.3,400.2 315.9,400 317.6,399.6 319.2,400.2 320.9,398.7 322.6,397.8 324.4,396.5 326.1,394.8 328,393.3 329.8,390.6 331.7,388.8 333.5,388.1 335.4,386.5 337.2,385.5 338.9,385.4 340.6,385.7 342.2,385.5 343.9,385.1 345.6,384.6 347.4,385.1 349.3,385.1 351.1,386.1 353,387.8 354.8,389.3 356.7,390.6 358.5,392.6 360.4,395.5 362.2,396.9 363.1,398.9 364.1,401.2 365,403.5 365.4,405.5 365.7,406.5 367.8,407.2 369.9,406.6 372,406.8 373.7,406.2 375.3,404.8 377,404.7 378.6,403.2 380.3,402.6" fill="none" stroke="#EDC540" stroke-width="2.3" stroke-linejoin="round" stroke-linecap="round"/>
<polyline points="114.4,399.5 117.1,400.3 118.8,400.8 120.4,402.5 122.1,403.6 123.8,404.9 125.8,407.2 127.8,409.8 129.2,411.7 130.5,413.8 131.9,415.4 133.7,416.1 135.4,416.6 137.2,418 139.2,415.4 141.3,413.6 142.3,411.2 143.3,409.5 144.3,408.2 145.3,405.7 147.3,404.1 149.3,401.8 151,403.1 152.7,404.6 154.3,405.3 156,405.9 157.8,407 159.6,408.9 161.4,410 163.2,411.2 165,412.5 166.8,413.4 168.6,414.4 170.3,415.9 172.1,417.1 173.9,419.1 175.7,419.9 177.5,422 179.3,421.8 181.1,422.7 182.9,424 184.9,421.5 186.9,419.5 187.7,417.7 188.5,415.9 189.3,414.8 190.1,413.5 190.9,411.4 191.4,410 192,408.6 192.5,406.6 193.1,405.2 193.6,403.6 195.6,401.5 197.6,399.7 199.3,400.5 201,400.2 202.7,400.9 204.4,401 206.4,402.8 208.4,404.4 209.8,407.2 211.1,409.8 213.8,411.8 215.6,412.7 217.3,413.2 219.1,414.7 220.8,415.8 222.4,415.6 224.1,416.6 225.8,417.2 227.6,415.7 229.4,414.4 231.2,412.8 232,411.4 232.8,410 233.6,408.1 234.4,406.1 235.2,405.1 237.2,404.3 239.3,403.3 241.1,404.2 242.8,404.5 244.6,405.2 246.2,406.7 247.8,408.3 249.5,408.6 251.1,410.5 252.7,410.2 254.3,410.3 255.9,410.7 257.6,411.5 259.2,411.1 260.8,411.9 262.4,411.4 264.1,411.7 265.7,411.1 267.3,411.5 269,411.2 270.6,410.5 272.3,410.8 273.9,410.8 275.6,411.8 277.2,411.1 278.9,411.5 280.7,412.7 282.6,414 284.4,414.2 286.1,414.6 287.8,415.5 289.4,415.4 291.1,415.3 292.8,415.6 294.5,415.6 296.1,415.6 297.8,414.5 299.4,414.3 301.1,414.4 302.8,413.3 304.4,412.2 306.1,411.4 307.7,411 309.4,409.9 311.1,409.2 312.8,409.4 314.4,409.3 316.1,409.1 317.8,410.1 319.5,409.3 321.1,408.8 322.8,408.5 324.4,408.6 326.1,408.5 328,408.7 329.8,409.8 331.6,410.3 333.5,410.5 335.4,411.4 337.2,411.9 338.9,411.3 340.7,412.1 342.4,411.9 344.1,411.9 345.9,411.6 347.6,411.6 349.4,411.6 351.1,412.2 352.8,411.7 354.6,411.4 356.3,411.4 358.1,411.8 359.8,412 361.5,411.3 363.3,411.3 365,411.4 366.7,412 368.4,412.2 370.2,412.7 371.9,412.9 373.6,412.8 375.4,412.2 377.1,412.1 378.9,411.7 381.7,414.4" fill="none" stroke="#1F9A55" stroke-width="2.3" stroke-linejoin="round" stroke-linecap="round"/>
<polyline points="114.4,416.2 116.4,417.3 118.4,419.2 120.1,420.9 121.8,422 123.4,423.3 125.1,424.5 126.8,426.2 128.5,426.6 130.2,427.4 131.9,429.3 133.6,428.9 135.2,429 136.9,429.4 138.6,430.1 140.3,428.8 141.9,428.7 143.6,428.6 145.3,427.5 147.1,425.9 148.8,424.5 150.6,423.7 152.4,423.2 154.2,422.3 156,421.6 157.7,421.6 159.3,421.1 161,421.3 162.7,420.4 164.5,420.7 166.3,421.3 168.1,421.6 169.8,422.1 171.4,423.1 173.1,423.5 174.8,423.5 176.5,424.3 178.2,424.8 179.8,425.5 181.5,425.1 183.3,425.8 185.1,425.2 186.9,425.4 188.7,424.3 190.5,422.3 192.3,420.9 193.6,418.7 195,417.7 196.3,415.2 198.1,415.1 199.9,413.9 201.7,413.9 203.5,413.2 205.2,412.7 207,412.5 209.1,413.6 211.1,414.5 212.9,416.9 214.8,418 216.7,419.4 218.5,420.5 220.2,422.9 222,424.6 223.7,426.2 225.7,425.7 227.6,425.9 229.6,425 231.8,423 234.1,420.6 235.1,419.2 236,416.8 237,415.3 238.5,412.7 240,410.1 241.7,410.7 243.3,411 245,411.3 246.6,411.7 248.3,412.5 250.2,412.4 252,411.6 253.8,411.8 255.7,411.9 257.5,411.1 259.4,411 261.1,410.7 262.8,411.1 264.4,410.9 266.1,411.2 267.8,412.2 269.5,411.5 271.1,410.5 272.8,410.2 274.4,409 276.1,408.4 278,408.4 279.8,407.3 281.7,407.1 283.5,407.1 285.4,407.8 287.2,409.1 289.1,409.6 290.9,411 292.8,412.8 294.5,412.4 296.1,411.8 297.8,412.3 299.4,412.3 301.1,411.7 302.8,411.1 304.4,411.2 306.1,411.3 307.7,410.8 309.4,410.5 311.1,410.1 312.8,409.7 314.4,409.7 316.1,410 317.8,409.1 319.5,409.2 321.1,408.9 322.8,408.1 324.4,407.8 326.1,407.4 328,407.7 329.8,407.7 331.6,407.8 333.5,408.5 335.4,408.4 337.2,408.4 338.9,408 340.7,408 342.4,407.5 344.1,407.1 345.9,407.7 347.6,407.5 349.4,407 351.1,406.8 353,406.6 354.8,406.8 356.6,407.2 358.5,406.9 360.4,407.2 362.2,407.2 363.9,406.9 365.7,405.8 367.4,405.7 369.2,405 371,403 372.9,401.5 374.7,399.4 376.6,399 378.4,399 380.3,399.2" fill="none" stroke="#6B3399" stroke-width="2.3" stroke-linejoin="round" stroke-linecap="round"/>
<polyline points="114.4,401.4 116.4,402.9 118.4,404.4 119.8,406 121.1,408.3 122.5,410.2 123.8,411.5 125.6,412.8 127.4,414.2 129.2,416 131.2,416.4 133.2,417.7 135.2,415.2 137.2,412.3 138.3,411.7 139.4,410 140.4,408.3 141.5,406.2 142.6,404.4 143.9,402.4 145.3,399.8 147.1,400.1 148.8,400.1 150.6,399.4 152.4,400.3 154.2,401.2 156,402.8 157.8,403.6 159.6,404.6 161.4,405.6 163.2,406.4 165,406.6 166.8,407.9 168.4,408.5 170,408.8 171.6,408.7 173.2,409.2 174.8,409.9 176.6,411.7 178.4,413.3 180.2,414 182,414.5 183.8,414.5 185.6,414.4 187.2,414.3 188.8,414.6 190.4,414.9 192,414.6 193.6,414.5 195.2,414.4 196.8,414.3 198.5,414.4 200.1,414 201.7,413.9 203.5,413.8 205.2,414 207,413.8 208.6,413.7 210.2,413.2 211.9,413.2 213.5,413.8 215.1,413.4 216.9,414.5 218.6,416.4 220.4,417.7 222.2,418.8 224,419.5 225.9,420.5 227.8,421.1 229.6,422.4 231.4,421.4 233.3,420.9 235.2,420.5 237,420.6 238.8,420 240.7,419.7 242.6,419.4 244.4,418.7 246.3,418.1 248.2,418 250,417.5 251.9,416.7 253,414.6 254.2,413.3 255.3,411.4 257,412.3 258.6,412 260.3,412.4 261.9,413.3 263.6,413 265.3,413.5 266.9,413.5 268.6,414 270.2,414.4 271.9,414.6 273.6,414.6 275.3,414.8 276.9,414.5 278.6,414.6 280.3,415.2 282.1,415.4 284,416.3 285.8,416.8 287.6,416.2 289.3,416.7 291.1,416.8 292.8,417.1 294.5,415.9 296.1,414.8 297.8,414 299.4,412.5 301.1,411.7 303,412.3 304.8,412.4 306.7,412.8 308.4,412.6 310.1,414 311.9,414.2 313.6,415.2 315.4,414.5 317.1,415.1 318.9,414.6 320.6,414.8 322.4,413.7 324.3,412.2 326.1,411.2 327.8,411.8 329.4,413.1 331.1,413.2 332.7,414.2 334.4,414.6 336.1,415.1 337.8,415.2 339.4,415.6 341.1,415.3 342.8,415.6 344.5,415.3 346.1,415.5 347.8,414.9 349.4,414.5 351.1,413.4 353,413 354.8,412.6 356.6,412.2 358.5,412.3 360.4,411.3 362.2,411.1 363.9,410.3 365.6,410 367.2,410.2 368.9,409.1 370.6,409.2 372.3,408.3 373.9,408.8 375.6,407.9 377.2,407.9 378.9,407.5" fill="none" stroke="#C0272D" stroke-width="2.3" stroke-linejoin="round" stroke-linecap="round"/>
<polyline points="114.4,408.8 116.1,409.8 117.8,410 119.4,411.1 121.1,411.1 122.8,412.9 124.4,413.7 126.1,416 127.8,417.1 129.5,417.6 131.2,418.3 132.8,419.6 134.5,420.6 136.3,418.9 138.1,417.6 139.9,416.9 141.7,415.5 143.5,414.2 145.3,413.9 147.1,413.4 148.8,414 150.6,414.5 152.2,415.1 153.8,415 155.5,415.4 157.1,416.6 158.7,417 160.3,416.3 161.9,416 163.6,415.8 165.2,415.7 166.8,415.2 168.4,415.4 170,415.6 171.6,415.2 173.2,415.6 174.8,415.1 176.4,415.6 178,415.4 179.7,415.3 181.3,415.3 182.9,414.3 184.5,414.9 186.1,415.2 187.7,416 189.3,415.8 190.9,416 192.5,416.5 194.1,416.6 195.8,416.1 197.4,416.7 199,417.3 200.6,416.7 202.2,415.6 203.8,415.5 205.4,414.9 207,414.3 208.8,414.1 210.6,412.5 212.4,411.9 214.2,411.5 216,412.6 217.8,413.2 219.6,413.3 221.4,414.5 223.2,415 224.9,414.6 226.6,414.5 228.2,413.1 229.9,412.6 231.6,411.7 233.2,411 234.9,411.1 236.6,409.7 238.4,409.3 240.2,409.1 242,409.2 243.6,408.4 245.3,407.6 246.9,407.8 248.7,406.4 250.4,406.2 252.2,405.1 253.9,404.6 256,403.3 258.1,402.1 259.8,401 261.6,400.8 263.3,401.3 265,400.7 266.7,401.2 268.4,401.2 270.2,401.7 271.9,401.2 273.8,400.1 275.6,399 277.5,398.6 279.6,397.5 281.7,396.1 283.8,394.6 285.8,394 287.9,392.4 290,391 291.9,390.8 293.7,391.2 295.6,391.2 297.4,390.8 299.3,391.4 301.1,392.1 303,392 304.8,392.5 306.6,392.2 308.5,391.9 310.4,392.7 312.2,392.2" fill="none" stroke="#000000" stroke-width="2.3" stroke-linejoin="round" stroke-linecap="round"/>
<line x1="397.3" y1="377.8" x2="421.5" y2="377.8" stroke="#4A72B0" stroke-width="2.8"/>
<text x="423.8" y="378.6" font-size="10.5" fill="#505050" text-anchor="start" font-family="'Liberation Sans','Noto Sans CJK SC',sans-serif" font-weight="300" dominant-baseline="central" textLength="32" lengthAdjust="spacingAndGlyphs">2017年</text>
<line x1="397.3" y1="394.5" x2="421.5" y2="394.5" stroke="#E0884A" stroke-width="2.8"/>
<text x="423.8" y="395.3" font-size="10.5" fill="#505050" text-anchor="start" font-family="'Liberation Sans','Noto Sans CJK SC',sans-serif" font-weight="300" dominant-baseline="central" textLength="32" lengthAdjust="spacingAndGlyphs">2018年</text>
<line x1="397.3" y1="411.1" x2="421.5" y2="411.1" stroke="#A5A5A5" stroke-width="2.8"/>
<text x="423.8" y="411.9" font-size="10.5" fill="#505050" text-anchor="start" font-family="'Liberation Sans','Noto Sans CJK SC',sans-serif" font-weight="300" dominant-baseline="central" textLength="32" lengthAdjust="spacingAndGlyphs">2019年</text>
<line x1="397.3" y1="427.8" x2="421.5" y2="427.8" stroke="#EDC540" stroke-width="2.8"/>
<text x="423.8" y="428.6" font-size="10.5" fill="#505050" text-anchor="start" font-family="'Liberation Sans','Noto Sans CJK SC',sans-serif" font-weight="300" dominant-baseline="central" textLength="32" lengthAdjust="spacingAndGlyphs">2020年</text>
<line x1="397.3" y1="444.5" x2="421.5" y2="444.5" stroke="#1F9A55" stroke-width="2.8"/>
<text x="423.8" y="445.3" font-size="10.5" fill="#505050" text-anchor="start" font-family="'Liberation Sans','Noto Sans CJK SC',sans-serif" font-weight="300" dominant-baseline="central" textLength="32" lengthAdjust="spacingAndGlyphs">2021年</text>
<line x1="397.3" y1="461.2" x2="421.5" y2="461.2" stroke="#6B3399" stroke-width="2.8"/>
<text x="423.8" y="462" font-size="10.5" fill="#505050" text-anchor="start" font-family="'Liberation Sans','Noto Sans CJK SC',sans-serif" font-weight="300" dominant-baseline="central" textLength="32" lengthAdjust="spacingAndGlyphs">2022年</text>
<line x1="397.3" y1="477.8" x2="421.5" y2="477.8" stroke="#C0272D" stroke-width="2.8"/>
<text x="423.8" y="478.6" font-size="10.5" fill="#505050" text-anchor="start" font-family="'Liberation Sans','Noto Sans CJK SC',sans-serif" font-weight="300" dominant-baseline="central" textLength="32" lengthAdjust="spacingAndGlyphs">2023年</text>
<line x1="397.3" y1="494.5" x2="421.5" y2="494.5" stroke="#000000" stroke-width="2.8"/>
<text x="423.8" y="495.3" font-size="10.5" fill="#505050" text-anchor="start" font-family="'Liberation Sans','Noto Sans CJK SC',sans-serif" font-weight="300" dominant-baseline="central" textLength="32" lengthAdjust="spacingAndGlyphs">2024年</text>
<text x="150.8" y="547.7" font-size="9.6" fill="#1a1a1a" font-family="'Liberation Serif','Noto Serif CJK SC',serif" font-weight="bold" dominant-baseline="central" textLength="193.5" lengthAdjust="spacingAndGlyphs">数据来源：欧盟统计局 混沌天成研究院</text>
<text x="705.7" y="348" font-size="14.8" fill="#1a1a1a" font-family="'Liberation Serif','Noto Serif CJK SC',serif" font-weight="bold" dominant-baseline="central" textLength="108.7" lengthAdjust="spacing">中国猪肉批发价</text>
<line x1="603.7" y1="371.5" x2="880" y2="371.5" stroke="#D9D9D9" stroke-width="1"/>
<text x="598.6" y="371.5" font-size="10.5" fill="#505050" text-anchor="end" font-family="'Liberation Sans','Noto Sans CJK SC',sans-serif" font-weight="normal" dominant-baseline="central">55</text>
<line x1="603.7" y1="384.5" x2="880" y2="384.5" stroke="#D9D9D9" stroke-width="1"/>
<text x="598.6" y="384.5" font-size="10.5" fill="#505050" text-anchor="end" font-family="'Liberation Sans','Noto Sans CJK SC',sans-serif" font-weight="normal" dominant-baseline="central">50</text>
<line x1="603.7" y1="397.5" x2="880" y2="397.5" stroke="#D9D9D9" stroke-width="1"/>
<text x="598.6" y="397.4" font-size="10.5" fill="#505050" text-anchor="end" font-family="'Liberation Sans','Noto Sans CJK SC',sans-serif" font-weight="normal" dominant-baseline="central">45</text>
<line x1="603.7" y1="410.5" x2="880" y2="410.5" stroke="#D9D9D9" stroke-width="1"/>
<text x="598.6" y="410.4" font-size="10.5" fill="#505050" text-anchor="end" font-family="'Liberation Sans','Noto Sans CJK SC',sans-serif" font-weight="normal" dominant-baseline="central">40</text>
<line x1="603.7" y1="423.5" x2="880" y2="423.5" stroke="#D9D9D9" stroke-width="1"/>
<text x="598.6" y="423.4" font-size="10.5" fill="#505050" text-anchor="end" font-family="'Liberation Sans','Noto Sans CJK SC',sans-serif" font-weight="normal" dominant-baseline="central">35</text>
<line x1="603.7" y1="436.5" x2="880" y2="436.5" stroke="#D9D9D9" stroke-width="1"/>
<text x="598.6" y="436.4" font-size="10.5" fill="#505050" text-anchor="end" font-family="'Liberation Sans','Noto Sans CJK SC',sans-serif" font-weight="normal" dominant-baseline="central">30</text>
<line x1="603.7" y1="449.5" x2="880" y2="449.5" stroke="#D9D9D9" stroke-width="1"/>
<text x="598.6" y="449.3" font-size="10.5" fill="#505050" text-anchor="end" font-family="'Liberation Sans','Noto Sans CJK SC',sans-serif" font-weight="normal" dominant-baseline="central">25</text>
<line x1="603.7" y1="462.5" x2="880" y2="462.5" stroke="#D9D9D9" stroke-width="1"/>
<text x="598.6" y="462.3" font-size="10.5" fill="#505050" text-anchor="end" font-family="'Liberation Sans','Noto Sans CJK SC',sans-serif" font-weight="normal" dominant-baseline="central">20</text>
<line x1="603.7" y1="475.5" x2="880" y2="475.5" stroke="#D9D9D9" stroke-width="1"/>
<text x="598.6" y="475.3" font-size="10.5" fill="#505050" text-anchor="end" font-family="'Liberation Sans','Noto Sans CJK SC',sans-serif" font-weight="normal" dominant-baseline="central">15</text>
<line x1="603.7" y1="488.5" x2="880" y2="488.5" stroke="#D9D9D9" stroke-width="1"/>
<text x="598.6" y="488.2" font-size="10.5" fill="#505050" text-anchor="end" font-family="'Liberation Sans','Noto Sans CJK SC',sans-serif" font-weight="normal" dominant-baseline="central">10</text>
<text transform="translate(604.8,496.2) rotate(-90)" font-size="9.3" fill="#5a5a5a" text-anchor="end" font-family="'Liberation Sans','Noto Sans CJK SC',sans-serif" font-weight="300" dominant-baseline="central">1月2日</text>
<text transform="translate(616.4,496.2) rotate(-90)" font-size="9.3" fill="#5a5a5a" text-anchor="end" font-family="'Liberation Sans','Noto Sans CJK SC',sans-serif" font-weight="300" dominant-baseline="central">1月17日</text>
<text transform="translate(628,496.2) rotate(-90)" font-size="9.3" fill="#5a5a5a" text-anchor="end" font-family="'Liberation Sans','Noto Sans CJK SC',sans-serif" font-weight="300" dominant-baseline="central">2月1日</text>
<text transform="translate(639.7,496.2) rotate(-90)" font-size="9.3" fill="#5a5a5a" text-anchor="end" font-family="'Liberation Sans','Noto Sans CJK SC',sans-serif" font-weight="300" dominant-baseline="central">2月16日</text>
<text transform="translate(651.3,496.2) rotate(-90)" font-size="9.3" fill="#5a5a5a" text-anchor="end" font-family="'Liberation Sans','Noto Sans CJK SC',sans-serif" font-weight="300" dominant-baseline="central">3月2日</text>
<text transform="translate(662.9,496.2) rotate(-90)" font-size="9.3" fill="#5a5a5a" text-anchor="end" font-family="'Liberation Sans','Noto Sans CJK SC',sans-serif" font-weight="300" dominant-baseline="central">3月17日</text>
<text transform="translate(674.5,496.2) rotate(-90)" font-size="9.3" fill="#5a5a5a" text-anchor="end" font-family="'Liberation Sans','Noto Sans CJK SC',sans-serif" font-weight="300" dominant-baseline="central">4月1日</text>
<text transform="translate(686.1,496.2) rotate(-90)" font-size="9.3" fill="#5a5a5a" text-anchor="end" font-family="'Liberation Sans','Noto Sans CJK SC',sans-serif" font-weight="300" dominant-baseline="central">4月17日</text>
<text transform="translate(697.8,496.2) rotate(-90)" font-size="9.3" fill="#5a5a5a" text-anchor="end" font-family="'Liberation Sans','Noto Sans CJK SC',sans-serif" font-weight="300" dominant-baseline="central">5月5日</text>
<text transform="translate(709.4,496.2) rotate(-90)" font-size="9.3" fill="#5a5a5a" text-anchor="end" font-family="'Liberation Sans','Noto Sans CJK SC',sans-serif" font-weight="300" dominant-baseline="central">5月20日</text>
<text transform="translate(721,496.2) rotate(-90)" font-size="9.3" fill="#5a5a5a" text-anchor="end" font-family="'Liberation Sans','Noto Sans CJK SC',sans-serif" font-weight="300" dominant-baseline="central">6月4日</text>
<text transform="translate(732.6,496.2) rotate(-90)" font-size="9.3" fill="#5a5a5a" text-anchor="end" font-family="'Liberation Sans','Noto Sans CJK SC',sans-serif" font-weight="300" dominant-baseline="central">6月19日</text>
<text transform="translate(744.2,496.2) rotate(-90)" font-size="9.3" fill="#5a5a5a" text-anchor="end" font-family="'Liberation Sans','Noto Sans CJK SC',sans-serif" font-weight="300" dominant-baseline="central">7月4日</text>
<text transform="translate(755.9,496.2) rotate(-90)" font-size="9.3" fill="#5a5a5a" text-anchor="end" font-family="'Liberation Sans','Noto Sans CJK SC',sans-serif" font-weight="300" dominant-baseline="central">7月19日</text>
<text transform="translate(767.5,496.2) rotate(-90)" font-size="9.3" fill="#5a5a5a" text-anchor="end" font-family="'Liberation Sans','Noto Sans CJK SC',sans-serif" font-weight="300" dominant-baseline="central">8月3日</text>
<text transform="translate(779.1,496.2) rotate(-90)" font-size="9.3" fill="#5a5a5a" text-anchor="end" font-family="'Liberation Sans','Noto Sans CJK SC',sans-serif" font-weight="300" dominant-baseline="central">8月18日</text>
<text transform="translate(790.7,496.2) rotate(-90)" font-size="9.3" fill="#5a5a5a" text-anchor="end" font-family="'Liberation Sans','Noto Sans CJK SC',sans-serif" font-weight="300" dominant-baseline="central">9月2日</text>
<text transform="translate(802.3,496.2) rotate(-90)" font-size="9.3" fill="#5a5a5a" text-anchor="end" font-family="'Liberation Sans','Noto Sans CJK SC',sans-serif" font-weight="300" dominant-baseline="central">9月17日</text>
<text transform="translate(814,496.2) rotate(-90)" font-size="9.3" fill="#5a5a5a" text-anchor="end" font-family="'Liberation Sans','Noto Sans CJK SC',sans-serif" font-weight="300" dominant-baseline="central">10月8日</text>
<text transform="translate(825.6,496.2) rotate(-90)" font-size="9.3" fill="#5a5a5a" text-anchor="end" font-family="'Liberation Sans','Noto Sans CJK SC',sans-serif" font-weight="300" dominant-baseline="central">10月23日</text>
<text transform="translate(837.2,496.2) rotate(-90)" font-size="9.3" fill="#5a5a5a" text-anchor="end" font-family="'Liberation Sans','Noto Sans CJK SC',sans-serif" font-weight="300" dominant-baseline="central">11月7日</text>
<text transform="translate(848.8,496.2) rotate(-90)" font-size="9.3" fill="#5a5a5a" text-anchor="end" font-family="'Liberation Sans','Noto Sans CJK SC',sans-serif" font-weight="300" dominant-baseline="central">11月22日</text>
<text transform="translate(860.4,496.2) rotate(-90)" font-size="9.3" fill="#5a5a5a" text-anchor="end" font-family="'Liberation Sans','Noto Sans CJK SC',sans-serif" font-weight="300" dominant-baseline="central">12月7日</text>
<text transform="translate(872.1,496.2) rotate(-90)" font-size="9.3" fill="#5a5a5a" text-anchor="end" font-family="'Liberation Sans','Noto Sans CJK SC',sans-serif" font-weight="300" dominant-baseline="central">12月22日</text>
<text transform="translate(578.7,430.8) rotate(-90)" font-size="11" fill="#505050" text-anchor="middle" font-family="'Liberation Sans','Noto Sans CJK SC',sans-serif" dominant-baseline="central">元/公斤</text>
<polyline points="605.4,399.8 607.2,398.9 608.9,397.4 610.7,396.5 612.4,395.5 614.1,394.5 615.8,393 617.5,392.5 619.2,392.3 620.9,391.7 622.5,391.9 624.2,391.4 625.9,389.8 627.5,389.1 629.2,388.7 630.9,387.7 632.7,387.1 634.5,385.8 636.3,384 638.3,383.4 640.3,382.7 642.3,383.2 644.3,384.3 646.1,385.1 647.9,386.2 649.7,387.3 651.3,387.7 652.9,388.3 654.5,388.6 656.1,388.3 657.7,389.4 659.6,389.5 661.5,390.1 663.3,390.3 665.2,391.1 667.1,391.1 668.7,392 670.3,391.7 672,393.2 673.6,393.7 675.2,393.9 677,395.5 678.8,396.3 680.6,397.5 682.3,398.1 684,398.2 685.6,398.4 687.3,398.6 689,398.9 690.6,399.6 692.3,399.7 694,400.1 695.8,400.5 697.6,402.2 699.4,403.2 701.4,405.1 703.4,407.2 704.7,409.4 706.1,411.1 707.4,412.5 709.2,412.8 711,413.9 712.8,413.4 714.5,413.6 716.1,413.5 717.8,413.9 719.5,413.8 721.3,412.7 723.1,411.6 724.9,409.5 726.9,409.2 728.9,407.5 730.2,406.1 731.6,404.6 732.9,402.9 734.3,401.6 736.1,399.2 737.8,398.5 739.6,396.4 741.5,395 743.5,394.2 745.4,393.3 747.4,391.6 749.4,389.6 751.4,387.8 753.1,387.9 754.9,387.6 756.6,387.7 758.4,388 760.1,387.8 761.8,387.8 763.5,388.6 765.2,388.6 766.9,389 768.5,389 770.1,388.4 771.7,389.1 773.3,388.6 774.9,388.1 776.5,388.7 778.1,388.7 779.8,389.1 781.4,389.1 783,389.3 784.8,389.4 786.6,389.2 788.4,389.4 790.1,389.5 791.9,389.5 793.7,389.1 795.4,389.8 797,390.5 798.7,390.4 800.4,391.5 802,391 803.6,391.5 805.3,392.1 806.9,392.6 808.5,393.4 810.3,394.8 812,395.5 813.8,396.8 815.2,399.2 816.5,400.9 817.9,402.9 819.7,403.8 821.4,404.6 823.2,405.6 825.2,407.5 827.3,410.4 829.3,411.7 831.3,413 833.1,412.8 834.9,412.5 836.7,412.2 838.3,411.9 839.9,411.8 841.5,411.9 843.1,412.2 844.7,412.3 846.3,411.8 847.9,412.3 849.6,412.8 851.2,412.9 852.8,412.2 854.1,410.4 855.5,408.5 856.8,407.4 858.5,405.9 860.1,405 861.8,403.4 863.5,402.8 865.1,402.5 866.7,401.6 868.4,401.7 870,400.5 871.6,400.6 873.3,399.8 875,398.7 876.6,397.6 878.3,397.2" fill="none" stroke="#4A72B0" stroke-width="2.3" stroke-linejoin="round" stroke-linecap="round"/>
<polyline points="605.4,395.1 607.2,394.4 608.9,393.7 610.7,393.1 612.5,392.7 614.3,391.7 616.1,391.2 617.9,391.7 619.7,391.6 621.5,391.8 623.3,393.1 625.1,394.6 626.9,395.5 628.5,396.1 630.1,396.7 631.7,396.8 633.3,397 634.9,397.3 636.7,399.1 638.5,400.3 640.3,402.2 641.6,403.3 643,405.6 644.3,407.3 645.6,409.4 647,411.5 648.7,412.7 650.4,413 652,413.6 653.7,414.6 655.4,414.8 657,415.6 658.7,416.1 660.4,415.9 662.1,417 663.8,417.7 665.4,417.5 667.1,418.3 668.8,419.2 670.5,420 672.1,421 673.8,422.4 675.8,424.5 677.9,425.5 679.2,428.1 680.6,430.3 681.9,432.4 683.6,432.2 685.2,431.5 686.9,431.7 688.6,431.3 690.4,431.9 692.2,432.3 694,432.6 695.7,433.4 697.4,434.2 699,434.6 700.7,436.1 702,437.3 703.4,440.1 705.1,441 706.8,442.4 708.4,444.1 710.1,444.9 711.8,445.4 713.5,446.1 715.1,446.4 716.8,446 718.6,447.6 720.4,449.3 722.2,450.8 723.9,451.6 725.5,452.6 727.2,453.3 728.9,454.3 730.7,454.8 732.5,455.7 734.3,456.3 736.1,456.4 737.8,455.8 739.6,456.4 741.3,456.3 743,455.6 744.7,455.6 746.4,455.8 748.1,456 750,456.2 751.9,456.5 753.7,456.2 755.6,456.8 757.5,457.4 759.4,457.9 761.3,457.8 763.1,458 765,458.2 766.9,458.1 768.7,458.4 770.5,458.5 772.2,458.4 774,458.8 775.8,458.6 777.6,459.3 779.5,459.2 781.4,458.8 783.2,459.7 785.1,459.5 787,460 788.8,459.7 790.6,460.4 792.4,460.2 794.1,460.2 795.9,460.9 797.7,461.4 799.6,462 801.5,462.5 803.3,462.9 805.2,463 807.1,463.8 808.9,464.4 810.7,465.6 812.5,466.2 814.5,467.5 816.5,468.6 817.9,466.2 819.2,464 821,462.8 822.8,461.1 824.6,459.7 826.3,458.8 828,458.1 829.6,456.2 831.3,456.1 832.9,455.3 834.5,454.5 836.2,453.3 837.8,452.6 839.4,451.3 841,451.3 842.6,451.4 844.2,450.9 845.8,451.1 847.4,450.7 849.2,450 851,450.5 852.8,450.5 854.6,450.5 856.4,449.9 858.2,450.1 859.8,450.3 861.4,451 863,451.6 864.6,451.9 866.2,451.9 867.9,452.4 869.7,452.6 871.4,452.8 873.1,453.6 874.8,453.8 876.6,453.7 878.3,454.2" fill="none" stroke="#6B3399" stroke-width="2.3" stroke-linejoin="round" stroke-linecap="round"/>
<polyline points="605.4,453.5 607,454.2 608.6,454 610.2,455 611.8,455.4 613.4,456 615.1,456.1 616.8,456.6 618.4,456.6 620.1,456.9 621.8,456.5 623.5,456.5 625.2,456.4 626.9,457.1 628.6,457.1 630.2,458 631.9,458.1 633.6,458.9 635.3,460 637,459.8 638.6,460.8 640.3,461 641.9,462 643.5,463.1 645.1,463.5 646.7,463.7 648.3,464.2 649.9,465.2 651.5,465.3 653.2,465.8 654.8,466.3 656.4,466.5 658.2,466.3 660,466.6 661.8,466.5 663.5,467.3 665.3,466.9 667.1,467.7 668.8,466.9 670.5,467.1 672.2,467.9 673.9,467.4 675.5,467.6 677.2,467.4 678.9,467.2 680.6,467.8 682.2,468.1 683.8,467.7 685.4,468 687,468.2 688.6,467.9 690.4,466.8 692.2,465.5 694,463.6 695.7,463 697.4,463.1 699,462.2 700.7,462.3 702.4,461.7 704,460.9 705.7,460 707.4,460 709.1,460.1 710.8,460 712.4,459.7 714.1,459.1 715.8,459.4 717.4,459.8 719.1,459 720.8,459.4 722.5,459.4 724.2,459.3 725.9,459.2 727.5,458.9 729.2,459 730.9,459.1 732.6,458.8 734.3,458.3 736.1,457.7 737.8,456.6 739.6,455.1 740.6,453.3 741.7,450.8 742.7,448.7 743.4,447.3 744,446 744.7,443.4 745.4,442.3 746,440.2 746.7,438.3 748.5,437.2 750.3,436.4 752.1,434.4 753.7,435.4 755.3,435.4 756.9,436.3 758.5,436.1 760.1,437 761.8,437.3 763.5,437.3 765.2,437.9 766.9,438.4 768.5,439.1 770.1,438.1 771.7,438.2 773.3,438.4 774.9,438.6 776.6,438.4 778.2,439.1 779.9,440.1 781.6,440.3 783.4,439.2 785.2,438.5 787,438.2 788.9,437.6 790.8,436.1 792.6,435.4 794.5,434.9 796.4,433.9 798,433.7 799.6,433.7 801.2,434.1 802.8,433.8 804.4,433 806.1,432.9 807.8,432.6 809.5,432.2 811.2,432.9 813,430.7 814.7,428.8 816.5,427.2 818.1,426.4 819.7,425.4 821.4,423.9 823,423.2 824.6,421.9 826.5,421.8 828.4,422.3 830.2,422.5 832.1,422 834,423.1 835.6,423.9 837.2,424.8 838.8,425.4 840.4,426.4 842,427.3 843.8,427.4 845.6,426.5 847.4,425.7 849,426.8 850.6,428.2 852.3,429.5 853.9,429.9 855.5,431 857.2,431.1 858.9,431.3 860.5,431.2 862.2,431.4 864.2,433.6 866.2,436.1 867.5,437.7 868.9,439.7 870.2,441.5 871.5,443.2 872.9,445.6 874.7,446.2 876.5,446.5 878.3,447.5" fill="none" stroke="#1F9A55" stroke-width="2.3" stroke-linejoin="round" stroke-linecap="round"/>
<polyline points="605.4,446.5 607.2,447.1 608.9,449 610.7,449.3 612.5,451.5 614.3,453.7 616.1,455.6 617.9,455 619.7,454.7 621.5,453.9 623.3,453.8 625.1,453.6 626.9,453.9 628.7,454.9 630.4,455.6 632.2,457 634,457.9 635.8,459.7 637.6,460.6 639.3,460.5 641,459.8 642.6,459.6 644.3,459.5 646.2,460.1 648.1,459.5 649.9,459.6 651.8,459.8 653.7,459.2 655.4,459.8 657.1,459.6 658.7,459.9 660.4,459.9 662.1,460.2 663.8,460.8 665.4,461 667.1,460.9 668.8,461.4 670.5,461.5 672.2,462.2 673.9,462.3 675.5,462.2 677.2,461.9 678.9,462.9 680.6,463 682.3,463.2 684,463.4 685.6,463.2 687.3,463.6 689,463.3 690.6,463.8 692.3,463.8 694,464.3 695.7,463.8 697.4,463.8 699,463.5 700.7,464 702.4,464.1 704,464.2 705.7,463.7 707.4,464.2 709.1,463.8 710.8,463.5 712.4,463.5 714.1,463.5 715.8,463.6 717.4,464.4 719.1,463.6 720.8,464 722.5,463.7 724.2,464.4 725.9,463.7 727.5,464.2 729.2,463.9 730.9,464 732.6,464 734.3,465 736.1,464.9 737.9,464.4 739.6,465 741.4,464.8 743.2,465.3 745,464.8 746.9,465.6 748.8,465.7 750.7,465.5 752.6,465.6 754.5,464.7 756.3,465 758.2,464.5 760.1,464.1 761.8,462.4 763.5,460.9 765.2,459.5 766.9,457.1 768.6,457.3 770.2,456.5 771.9,456 773.6,454.8 775.3,455 777,455.6 778.6,455 780.3,455.2 782,455.4 783.6,454.8 785.3,455.6 787,455.7 788.7,455.1 790.4,455.5 792,455.2 793.7,455.6 795.4,455.5 797,455 798.7,456 800.4,455.2 802.1,456 803.8,455.6 805.4,456.2 807.1,455.9 808.8,456.5 810.4,456.4 812.1,457.1 813.8,456.6 815.6,457.3 817.4,458.2 819.2,458 821,458.7 822.8,459.3 824.6,459.3 826.5,459.2 828.4,459.8 830.2,460.2 832.1,460.6 834,461 835.7,460.8 837.4,461 839,460.7 840.7,461.1 842.4,461.6 844,461.5 845.7,461.2 847.4,461.8 849.1,461.8 850.8,462.3 852.4,462.5 854.1,462 855.8,462.2 857.4,462.9 859.1,463 860.8,463.2 862.4,463.1 864,462.2 865.7,462.4 867.3,462 868.9,461.6 870.8,461.9 872.7,461.5 874.5,461.1 876.4,460.7 878.3,461" fill="none" stroke="#C0272D" stroke-width="2.3" stroke-linejoin="round" stroke-linecap="round"/>
<polyline points="605.4,461.5 607,461.5 608.6,462.4 610.2,462.8 611.8,462.7 613.4,462.8 615,462.3 616.6,462.8 618.3,462 619.9,461.6 621.5,462.3 623.3,460.9 625.1,459.9 626.9,459.2 628.6,458.5 630.2,456.5 631.9,455.7 633.6,455 635.4,454.6 637.1,454.6 638.9,454.8 641,456.3 643,457.5 645,458.7 647,460.2 648.9,460.6 650.8,460.5 652.6,461.1 654.5,460.6 656.4,460.9 658.2,461.3 660,461.3 661.8,461.4 663.5,461.9 665.3,461.9 667.1,461.4 668.8,461.6 670.5,461.6 672.2,461.7 673.9,460.8 675.5,461.4 677.2,460.7 678.9,460.8 680.6,461.3 682.3,460.8 684,460.9 685.6,460.4 687.3,461.2 689,460.5 690.6,461 692.3,460.4 694,461 695.7,460.5 697.4,460.1 699,460.1 700.7,460.1 702.4,459.9 704,460.7 705.7,460.3 707.4,460.1 709.1,459.2 710.8,459.3 712.4,458.7 714.1,458 715.8,456.2 717.5,455.1 719.1,453 720.8,451.8 722.6,450.9 724.4,450.8 726.2,449.6 727.8,450.1 729.4,449.8 731.1,449.6 732.7,449.8 734.3,449.7 736.1,449.7 737.9,450 739.6,450.6 741.4,451 743.2,450.7 745,451.3 748.1,450.6 750,449.8 751.9,449.7 753.7,449 755.6,449 757.5,448.4 759.3,448.3 761.1,448.9 762.9,448.6 764.6,447.9 766.4,447.9 768.2,447 770,446.1 771.8,445.9 773.6,444.6 775.3,444.5 777,443.1 778.6,442.5 780.3,442.4 782,441.9 783.6,442.3 785.3,443.1 787,442.9 788.9,442.7 790.8,443.4 792.6,443.6 794.5,443.3 796.4,443.2 798.1,443.8 799.8,444.2 801.4,444.2 803.1,444.4 804.8,444.8 806.5,445.2 808.1,446.1 809.8,446.9" fill="none" stroke="#000000" stroke-width="2.3" stroke-linejoin="round" stroke-linecap="round"/>
<line x1="890.3" y1="381.8" x2="914.5" y2="381.8" stroke="#4A72B0" stroke-width="2.8"/>
<text x="916" y="382.6" font-size="10" fill="#505050" text-anchor="start" font-family="'Liberation Sans','Noto Sans CJK SC',sans-serif" font-weight="300" dominant-baseline="central" textLength="30" lengthAdjust="spacingAndGlyphs">2020年</text>
<line x1="890.3" y1="403.5" x2="914.5" y2="403.5" stroke="#6B3399" stroke-width="2.8"/>
<text x="916" y="404.3" font-size="10" fill="#505050" text-anchor="start" font-family="'Liberation Sans','Noto Sans CJK SC',sans-serif" font-weight="300" dominant-baseline="central" textLength="30" lengthAdjust="spacingAndGlyphs">2021年</text>
<line x1="890.3" y1="425.2" x2="914.5" y2="425.2" stroke="#1F9A55" stroke-width="2.8"/>
<text x="916" y="426" font-size="10" fill="#505050" text-anchor="start" font-family="'Liberation Sans','Noto Sans CJK SC',sans-serif" font-weight="300" dominant-baseline="central" textLength="30" lengthAdjust="spacingAndGlyphs">2022年</text>
<line x1="890.3" y1="446.9" x2="914.5" y2="446.9" stroke="#C0272D" stroke-width="2.8"/>
<text x="916" y="447.7" font-size="10" fill="#505050" text-anchor="start" font-family="'Liberation Sans','Noto Sans CJK SC',sans-serif" font-weight="300" dominant-baseline="central" textLength="30" lengthAdjust="spacingAndGlyphs">2023年</text>
<line x1="890.3" y1="468.6" x2="914.5" y2="468.6" stroke="#000000" stroke-width="2.8"/>
<text x="916" y="469.4" font-size="10" fill="#505050" text-anchor="start" font-family="'Liberation Sans','Noto Sans CJK SC',sans-serif" font-weight="300" dominant-baseline="central" textLength="30" lengthAdjust="spacingAndGlyphs">2024年</text>
<text x="645.2" y="552.4" font-size="9.6" fill="#1a1a1a" font-family="'Liberation Serif','Noto Serif CJK SC',serif" font-weight="bold" dominant-baseline="central" textLength="194.5" lengthAdjust="spacingAndGlyphs">数据来源：农业农村部 混沌天成研究院</text>
</svg>
</body></html>
